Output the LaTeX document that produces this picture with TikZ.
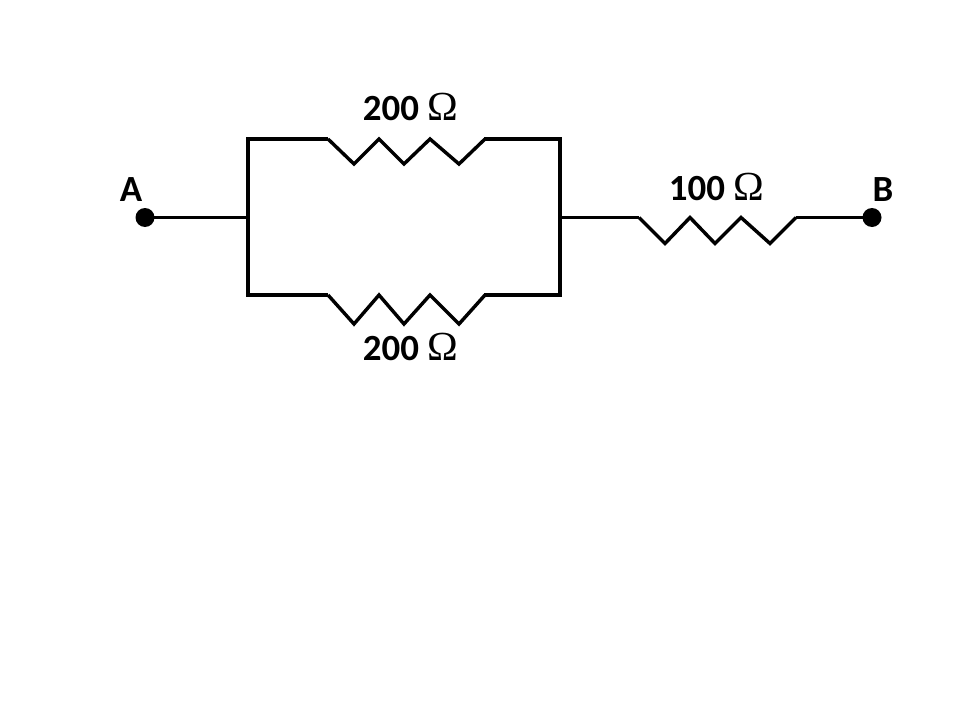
\documentclass[tikz,border=0pt]{standalone}
\usepackage{fontspec}
\setmainfont{Carlito}
\newfontfamily\OhmFont[Scale=1.12]{Liberation Serif}
\usepackage{xcolor}
\newcommand{\OhmLabel}[1]{\textbf{#1}~{\OhmFont\char"03A9}}
\tikzstyle{Terminal}=[circle,fill=black,draw=none,inner sep=0pt,minimum size=.38cm]
\tikzstyle{Wire}=[black,line width=1.95pt,miter limit=10]
\tikzstyle{Label}=[inner sep=0pt,font=\fontsize{21}{26}\selectfont]
\tikzstyle{Resistor}[26]=[to path={--++(26,#1)--++(25,-#1)--++(25,#1)--++(26,-#1)--++(29,#1)--++(26,-#1)-- (\tikztotarget)}]
\begin{document}
\begin{tikzpicture}[x=.02cm,y=-.02cm]
        \useasboundingbox(0,0)rectangle(960,720);
        \node[Terminal](a)at(145,217.5){};
        \node[Terminal](b)at(872,217.5){};
        \coordinate(jl)at(248,217.5);
        \coordinate(jr)at(560,217.5);
        \coordinate(tl)at(248,139);
        \coordinate(tr)at(560,139);
        \coordinate(bl)at(248,295);
        \coordinate(br)at(560,295);
        \coordinate(rta)at(328,139);
        \coordinate(rtb)at(484,139);
        \coordinate(rba)at(328,295);
        \coordinate(rbb)at(484,295);
        \coordinate(rra)at(639,217.5);
        \coordinate(rrb)at(796,217.5);
        \draw[Wire](a.center)--(jl);
        \draw[Wire](rba)--(bl)--(tl)--(rta);
        \draw[Wire](rta)to[Resistor=25](rtb);
        \draw[Wire](rtb)--(tr)--(br)--(rbb);
        \draw[Wire](rba)to[Resistor=29](rbb);
        \draw[Wire](jr)--(rra);
        \draw[Wire](rra)to[Resistor](rrb);
        \draw[Wire](rrb)--(b.center);
        \node[Label](la)at(131,190){\textbf{A}};
        \node[Label](lb)at(883,190){\textbf{B}};
        \node[Label](lt)at(410.5,106.5){\OhmLabel{200}};
        \node[Label](lm)at(410.5,346.5){\OhmLabel{200}};
        \node[Label](lr)at(716.5,186.5){\OhmLabel{100}};
    \end{tikzpicture}
\end{document}
